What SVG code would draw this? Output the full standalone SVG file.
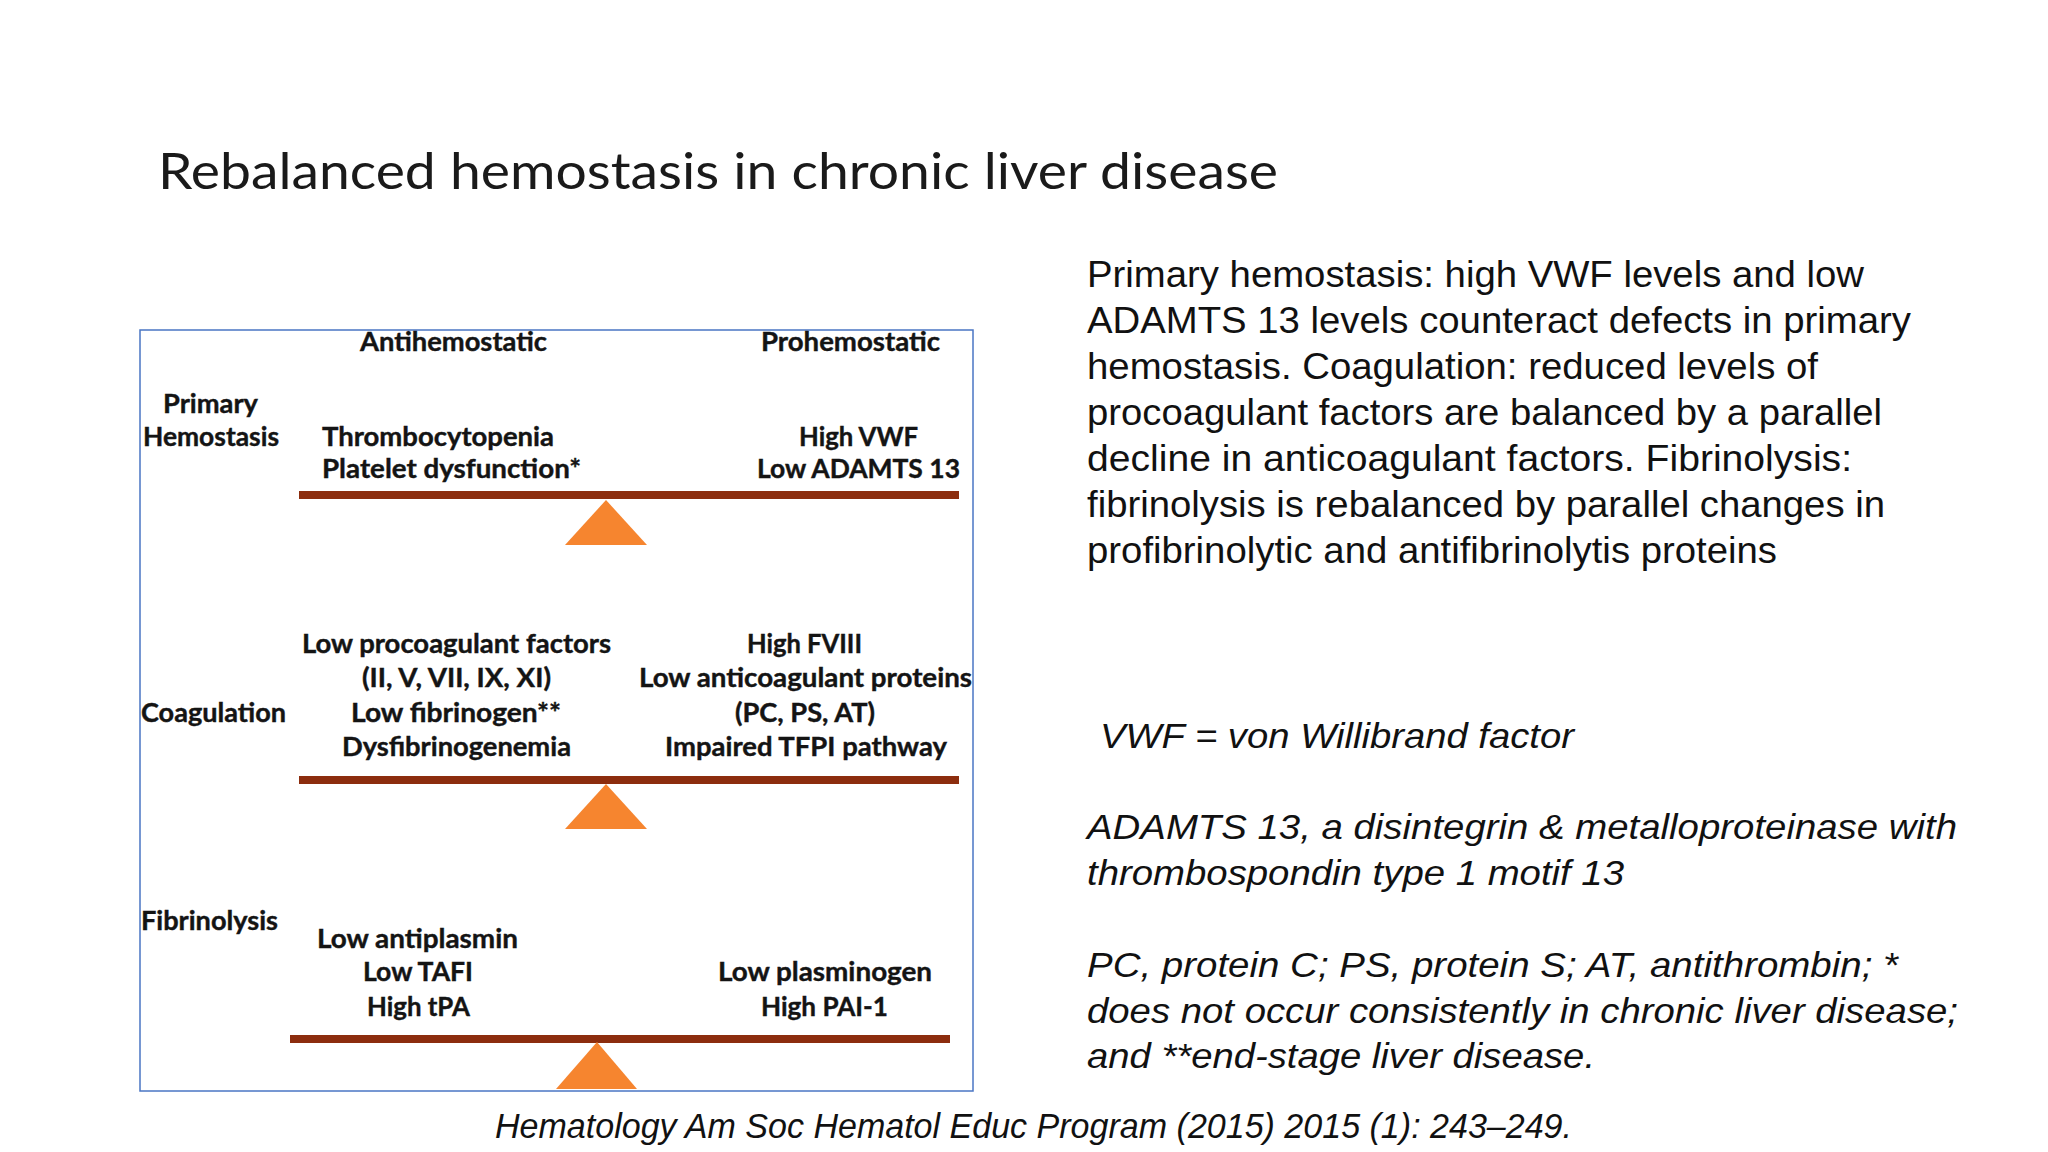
<svg xmlns="http://www.w3.org/2000/svg" width="2048" height="1152" viewBox="0 0 2048 1152">
<style>
.t{font-family:Lato,"Open Sans","Liberation Sans",sans-serif;fill:#1a1a1a}
.lb{font-family:Lato,"Open Sans","Liberation Sans",sans-serif;font-weight:bold;font-size:26px;fill:#141414;stroke:#141414;stroke-width:0.4}
.body{font-family:"Liberation Sans",Arial,sans-serif;font-size:36px;fill:#111}
.it{font-family:"Liberation Sans",Arial,sans-serif;font-size:35px;font-style:italic;fill:#111}
.beam{fill:#8c2d0e}
.fulcrum{fill:#f6852f}
</style>
<rect width="2048" height="1152" fill="#ffffff"/>

<g id="title">
<text class="t" x="158" y="189" font-size="51" textLength="1120" lengthAdjust="spacingAndGlyphs">Rebalanced hemostasis in chronic liver disease</text>
</g>

<g id="figure">
<rect id="figure-frame" x="140" y="330" width="833" height="761" fill="#ffffff" stroke="#4a76c4" stroke-width="1.5"/>

<g id="headers">
<text class="lb" x="360" y="351" textLength="187" lengthAdjust="spacingAndGlyphs">Antihemostatic</text>
<text class="lb" x="761" y="351" textLength="179" lengthAdjust="spacingAndGlyphs">Prohemostatic</text>
</g>

<g id="row-primary">
<text class="lb" x="163" y="413" textLength="95" lengthAdjust="spacingAndGlyphs">Primary</text>
<text class="lb" x="143" y="446" textLength="136" lengthAdjust="spacingAndGlyphs">Hemostasis</text>
<text class="lb" x="322" y="446" textLength="232" lengthAdjust="spacingAndGlyphs">Thrombocytopenia</text>
<text class="lb" x="322" y="478" textLength="259" lengthAdjust="spacingAndGlyphs">Platelet dysfunction*</text>
<text class="lb" x="799" y="446" textLength="119" lengthAdjust="spacingAndGlyphs">High VWF</text>
<text class="lb" x="757" y="478" textLength="203" lengthAdjust="spacingAndGlyphs">Low ADAMTS 13</text>
<rect class="beam" x="299" y="491" width="660" height="8"/>
<polygon class="fulcrum" points="606,500 647,545 565,545"/>
</g>

<g id="row-coagulation">
<text class="lb" x="141" y="722" textLength="145" lengthAdjust="spacingAndGlyphs">Coagulation</text>
<text class="lb" x="302" y="653" textLength="309" lengthAdjust="spacingAndGlyphs">Low procoagulant factors</text>
<text class="lb" x="362" y="687" textLength="189" lengthAdjust="spacingAndGlyphs">(II, V, VII, IX, XI)</text>
<text class="lb" x="351" y="722" textLength="210" lengthAdjust="spacingAndGlyphs">Low fibrinogen**</text>
<text class="lb" x="342" y="756" textLength="229" lengthAdjust="spacingAndGlyphs">Dysfibrinogenemia</text>
<text class="lb" x="747" y="653" textLength="115" lengthAdjust="spacingAndGlyphs">High FVIII</text>
<text class="lb" x="639" y="687" textLength="333" lengthAdjust="spacingAndGlyphs">Low anticoagulant proteins</text>
<text class="lb" x="735" y="722" textLength="140" lengthAdjust="spacingAndGlyphs">(PC, PS, AT)</text>
<text class="lb" x="665" y="756" textLength="282" lengthAdjust="spacingAndGlyphs">Impaired TFPI pathway</text>
<rect class="beam" x="299" y="776" width="660" height="8"/>
<polygon class="fulcrum" points="606,784 647,829 565,829"/>
</g>

<g id="row-fibrinolysis">
<text class="lb" x="141" y="930" textLength="137" lengthAdjust="spacingAndGlyphs">Fibrinolysis</text>
<text class="lb" x="317" y="948" textLength="201" lengthAdjust="spacingAndGlyphs">Low antiplasmin</text>
<text class="lb" x="363" y="981" textLength="110" lengthAdjust="spacingAndGlyphs">Low TAFI</text>
<text class="lb" x="367" y="1016" textLength="103" lengthAdjust="spacingAndGlyphs">High tPA</text>
<text class="lb" x="718" y="981" textLength="214" lengthAdjust="spacingAndGlyphs">Low plasminogen</text>
<text class="lb" x="761" y="1016" textLength="127" lengthAdjust="spacingAndGlyphs">High PAI-1</text>
<rect class="beam" x="290" y="1035" width="660" height="8"/>
<polygon class="fulcrum" points="597,1042 637,1089 556,1089"/>
</g>
</g>

<g id="summary-text">
<text class="body" x="1087" y="287" textLength="777" lengthAdjust="spacingAndGlyphs">Primary hemostasis: high VWF levels and low</text>
<text class="body" x="1087" y="333" textLength="824" lengthAdjust="spacingAndGlyphs">ADAMTS 13 levels counteract defects in primary</text>
<text class="body" x="1087" y="379" textLength="731" lengthAdjust="spacingAndGlyphs">hemostasis. Coagulation: reduced levels of</text>
<text class="body" x="1087" y="425" textLength="795" lengthAdjust="spacingAndGlyphs">procoagulant factors are balanced by a parallel</text>
<text class="body" x="1087" y="471" textLength="765" lengthAdjust="spacingAndGlyphs">decline in anticoagulant factors. Fibrinolysis:</text>
<text class="body" x="1087" y="517" textLength="798" lengthAdjust="spacingAndGlyphs">fibrinolysis is rebalanced by parallel changes in</text>
<text class="body" x="1087" y="563" textLength="690" lengthAdjust="spacingAndGlyphs">profibrinolytic and antifibrinolytis proteins</text>
</g>

<g id="abbreviations">
<text class="it" x="1100" y="748" textLength="474" lengthAdjust="spacingAndGlyphs">VWF = von Willibrand factor</text>
<text class="it" x="1087" y="839" textLength="870" lengthAdjust="spacingAndGlyphs">ADAMTS 13, a disintegrin &amp; metalloproteinase with</text>
<text class="it" x="1087" y="885" textLength="537" lengthAdjust="spacingAndGlyphs">thrombospondin type 1 motif 13</text>
<text class="it" x="1087" y="977" textLength="811" lengthAdjust="spacingAndGlyphs">PC, protein C; PS, protein S; AT, antithrombin; *</text>
<text class="it" x="1087" y="1023" textLength="871" lengthAdjust="spacingAndGlyphs">does not occur consistently in chronic liver disease;</text>
<text class="it" x="1087" y="1068" textLength="508" lengthAdjust="spacingAndGlyphs">and **end-stage liver disease.</text>
</g>

<g id="citation">
<text class="it" x="495" y="1138" textLength="1077" lengthAdjust="spacingAndGlyphs">Hematology Am Soc Hematol Educ Program (2015) 2015 (1): 243–249.</text>
</g>
</svg>
